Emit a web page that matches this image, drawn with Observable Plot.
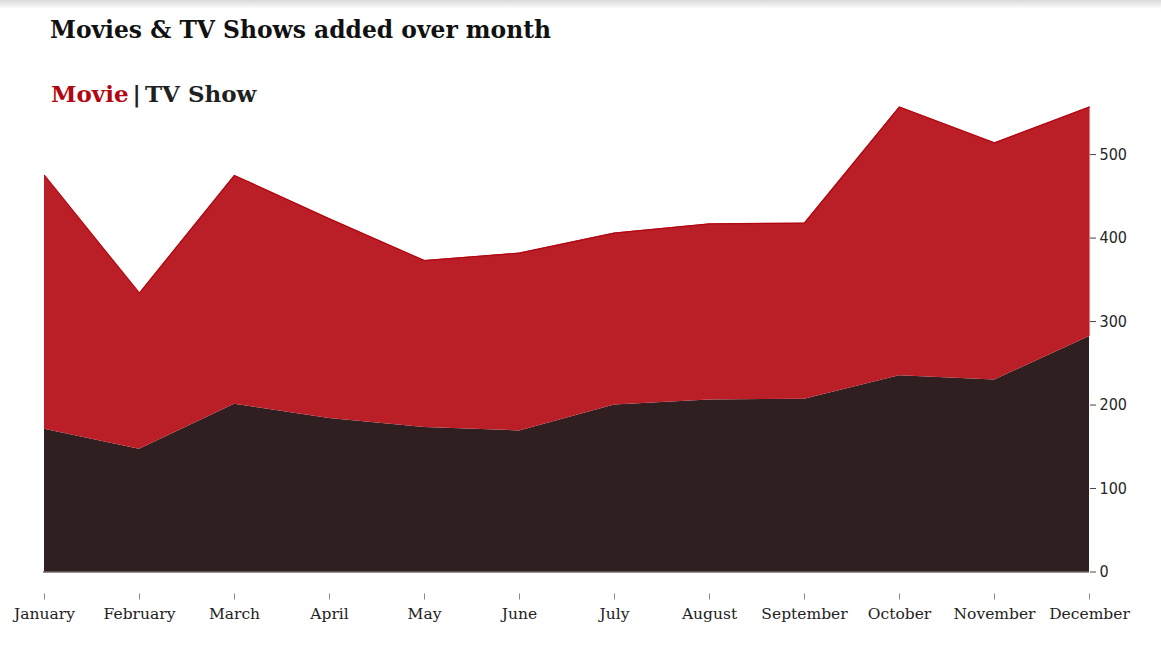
<!DOCTYPE html>
<html>
<head>
<meta charset="utf-8">
<script src="https://cdn.jsdelivr.net/npm/d3@7"></script>
<script src="https://cdn.jsdelivr.net/npm/@observablehq/plot@0.6"></script>
<style>
  html, body { margin: 0; padding: 0; background: #fff; }
  #wrap { position: relative; width: 1161px; height: 661px; overflow: hidden; }
  #shade { position: absolute; left: 0; top: 0; width: 1161px; height: 9px;
           background: linear-gradient(#d9d9d9, rgba(255,255,255,0)); }
  #head { height: 100px; position: relative; }
  #title { position: absolute; left: 50px; top: 16px; font-family: "DejaVu Serif", serif;
           font-weight: bold; font-size: 23.4px; line-height: normal; color: #111; white-space: nowrap; }
  #legend { position: absolute; left: 51px; top: 80px; font-family: "DejaVu Serif", serif;
            font-weight: bold; font-size: 23px; line-height: normal; color: #221f1f; white-space: nowrap; }
  #legend .mv { color: #b20710; }
  #legend .bar { margin-left: 4px; }
  #legend .tv { margin-left: 4px; }
</style>
</head>
<body>
<div id="wrap">
  <div id="shade"></div>
  <div id="head">
    <div id="title">Movies &amp; TV Shows added over month</div>
    <div id="legend"><span class="mv">Movie</span><span class="bar">|</span><span class="tv">TV Show</span></div>
  </div>
  <div id="chart"></div>
</div>
<script>
const months = ["January","February","March","April","May","June","July","August","September","October","November","December"];
const tvShow = [171, 147, 201, 184, 173, 169, 200, 206, 207, 235, 230, 282];
const movie  = [304, 187, 274, 239, 200, 213, 206, 211, 211, 322, 284, 275];
const yTicks = [0, 100, 200, 300, 400, 500];

const rows = [];
months.forEach((m, i) => {
  rows.push({month: m, type: "TV Show", count: tvShow[i]});
  rows.push({month: m, type: "Movie", count: movie[i]});
});
const totals = months.map((m, i) => ({month: m, tv: tvShow[i], total: tvShow[i] + movie[i]}));
const lastMonth = [totals[totals.length - 1]];

const chart = Plot.plot({
  width: 1161,
  height: 561,
  marginLeft: 43,
  marginRight: 72,
  marginTop: 6.5,
  marginBottom: 67.5,
  insetBottom: 22,
  x: {type: "point", domain: months, padding: 0, label: null},
  y: {domain: [0, 557], label: null},
  color: {domain: ["TV Show", "Movie"], range: ["#2f1f20", "#ba1f28"]},
  style: {background: "transparent"},
  marks: [
    Plot.areaY(rows, Plot.stackY({x: "month", y: "count", fill: "type", order: ["TV Show", "Movie"], curve: "linear"})),
    Plot.lineY(totals, {x: "month", y: "total", stroke: "#b20710", strokeWidth: 1.2}),
    Plot.ruleX(lastMonth, {x: "month", y1: "tv", y2: "total", stroke: "#b20710", strokeOpacity: 0.5, strokeWidth: 1.2}),
    Plot.ruleY([0], {stroke: "#2f1f20", strokeWidth: 1.2}),
    Plot.axisX({ticks: months, tickSize: 6, tickPadding: 8, fontFamily: "DejaVu Serif", fontSize: 15.5, fill: "#222", stroke: "#888"}),
    Plot.axisY({anchor: "right", ticks: yTicks, tickSize: 6, tickPadding: 4, fontFamily: "DejaVu Sans Condensed, DejaVu Sans", fontSize: 16, fill: "#262626", stroke: "#444", tickFormat: d3.format("d")})
  ]
});
document.getElementById("chart").appendChild(chart);
</script>
</body>
</html>
